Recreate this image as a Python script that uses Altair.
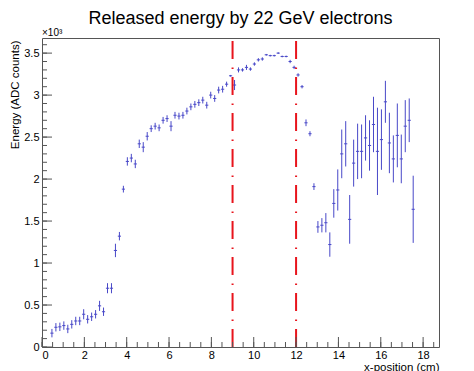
import altair as alt
import pandas as pd

# ---- data ----
n_bins = 100
x_max = 18.75
bins = list(range(2, 94))
values = [0.165, 0.235, 0.24, 0.255, 0.215, 0.27, 0.31, 0.31, 0.39, 0.33, 0.36, 0.39, 0.49, 0.42, 0.70, 0.70,
          1.15, 1.32,
          1.88,
          2.21, 2.25, 2.18,
          2.42, 2.38, 2.51, 2.60, 2.63, 2.61, 2.70, 2.72, 2.63, 2.76, 2.75, 2.76, 2.81, 2.86, 2.89, 2.91,
          2.94, 2.88, 3.00, 2.96, 3.06, 3.07,
          3.13, 3.23, 3.12, 3.30, 3.30, 3.33, 3.31, 3.37, 3.42, 3.43, 3.48, 3.47, 3.47, 3.50, 3.46, 3.46,
          3.40, 3.33, 3.24, 3.10, 2.67, 2.54,
          1.91, 1.43, 1.45, 1.48, 1.22, 1.71, 1.87, 2.30, 2.42, 1.52, 2.19, 2.33, 2.33, 2.49, 2.40, 2.65,
          2.33, 2.47, 2.92, 2.43, 2.24, 2.52, 2.24, 2.63, 2.70, 1.64]
errors = [0.05, 0.05, 0.05, 0.05, 0.05, 0.05, 0.05, 0.05, 0.06, 0.05, 0.05, 0.05, 0.06, 0.05, 0.06, 0.06,
          0.08, 0.05,
          0.04,
          0.05, 0.05, 0.05,
          0.05, 0.06, 0.05, 0.04, 0.04, 0.04, 0.04, 0.04, 0.06, 0.04, 0.04, 0.04, 0.04, 0.04, 0.04, 0.04,
          0.04, 0.04, 0.04, 0.04, 0.04, 0.04,
          0.03, 0.01, 0.06, 0.03, 0.02, 0.03, 0.02, 0.02, 0.02, 0.02, 0.01, 0.01, 0.01, 0.01, 0.01, 0.01,
          0.02, 0.02, 0.02, 0.02, 0.04, 0.03,
          0.04, 0.07, 0.085, 0.115, 0.145, 0.17, 0.245, 0.29, 0.27, 0.29, 0.28, 0.33, 0.32, 0.27, 0.30, 0.33,
          0.52, 0.36, 0.25, 0.36, 0.28, 0.38, 0.29, 0.31, 0.26, 0.40]
cut_lines = [9, 12]
x_labels = [0, 2, 4, 6, 8, 10, 12, 14, 16, 18]
x_minor = [v * 0.5 for v in range(0, 38)]
y_labels = [0, 0.5, 1, 1.5, 2, 2.5, 3, 3.5]
y_minor = [round(v * 0.1, 2) for v in range(0, 37)]
y_max = 3.68
title_text = "Released energy by 22 GeV electrons"
x_title = "x-position (cm)"
y_title = "Energy (ADC counts)"

W, H = 397, 309
bw = x_max / n_bins
df = pd.DataFrame({
    "x": [(b + 0.5) * bw for b in bins],
    "xl": [b * bw + 0.1 * bw for b in bins],
    "xr": [(b + 1) * bw - 0.1 * bw for b in bins],
    "y": values,
    "lo": [v - e for v, e in zip(values, errors)],
    "hi": [v + e for v, e in zip(values, errors)],
})

xs = alt.Scale(domain=[0, x_max], nice=False, zero=False)
ys = alt.Scale(domain=[0, y_max], nice=False, zero=False)
BLUE = "#4848c8"
FONT = "Liberation Sans"

xaxis = alt.Axis(values=x_labels, title=x_title, titleAnchor="end", titleAlign="right",
                 titleX=W, titleY=23, titleBaseline="alphabetic", titleFontWeight="normal",
                 titleFontSize=11.5, titleFont=FONT, labelFont=FONT, labelFontSize=11,
                 labelPadding=2, ticks=False, tickSize=0, domain=False, grid=False,
                 labelColor="black", titleColor="black")
yaxis = alt.Axis(values=y_labels, title=y_title, titleAnchor="end", titleAlign="right",
                 titleAngle=-90, titleX=-33, titleY=2, titleBaseline="top", titleFontWeight="normal",
                 titleFontSize=11.5, titleFont=FONT, labelFont=FONT, labelFontSize=11,
                 labelPadding=3, ticks=False, tickSize=0, domain=False, grid=False,
                 labelExpr="'' + datum.value", labelColor="black", titleColor="black")

vbars = alt.Chart(df).mark_rule(color=BLUE, strokeWidth=1).encode(
    x=alt.X("x:Q", scale=xs, axis=xaxis),
    y=alt.Y("lo:Q", scale=ys, axis=yaxis),
    y2="hi:Q",
)
hbars = alt.Chart(df).mark_rule(color=BLUE, strokeWidth=1).encode(
    x=alt.X("xl:Q", scale=xs, axis=xaxis),
    x2="xr:Q",
    y=alt.Y("y:Q", scale=ys, axis=yaxis),
)
lines = alt.Chart(pd.DataFrame({"x": cut_lines})).mark_rule(
    color="#e8141c", strokeWidth=2, strokeDash=[18, 8, 1.5, 8.5]
).encode(
    x=alt.X("x:Q", scale=xs, axis=xaxis),
    y=alt.value(H), y2=alt.value(0),
)

TICK = "#555555"
ymaj = alt.Chart(pd.DataFrame({"v": y_labels})).mark_rule(color=TICK, strokeWidth=1).encode(
    y=alt.Y("v:Q", scale=ys, axis=yaxis), x=alt.value(0), x2=alt.value(10))
ymin = alt.Chart(pd.DataFrame({"v": y_minor})).mark_rule(color=TICK, strokeWidth=1).encode(
    y=alt.Y("v:Q", scale=ys, axis=yaxis), x=alt.value(0), x2=alt.value(5))
xmaj = alt.Chart(pd.DataFrame({"v": x_labels})).mark_rule(color=TICK, strokeWidth=1).encode(
    x=alt.X("v:Q", scale=xs, axis=xaxis), y=alt.value(H), y2=alt.value(H - 10))
xmin = alt.Chart(pd.DataFrame({"v": x_minor})).mark_rule(color=TICK, strokeWidth=1).encode(
    x=alt.X("v:Q", scale=xs, axis=xaxis), y=alt.value(H), y2=alt.value(H - 5))

mult = alt.Chart(pd.DataFrame({"t": ["×10³"]})).mark_text(
    align="left", baseline="alphabetic", font=FONT, fontSize=10, color="black"
).encode(x=alt.value(0), y=alt.value(-2), text="t:N")

title = alt.Chart(pd.DataFrame({"t": [title_text]})).mark_text(
    align="center", baseline="top", font=FONT, fontSize=18, color="black"
).encode(x=alt.value(W / 2), y=alt.value(-28), text="t:N")

chart = alt.layer(vbars, hbars, lines, ymin, ymaj, xmin, xmaj, mult, title).properties(
    width=W, height=H,
    autosize=alt.AutoSizeParams(type="none"),
    padding={"left": 34, "top": 30, "right": 27, "bottom": 24},
).configure_view(stroke="#555555", strokeWidth=1)

chart.save("out.html", embed_options={"renderer": "svg", "actions": False})
